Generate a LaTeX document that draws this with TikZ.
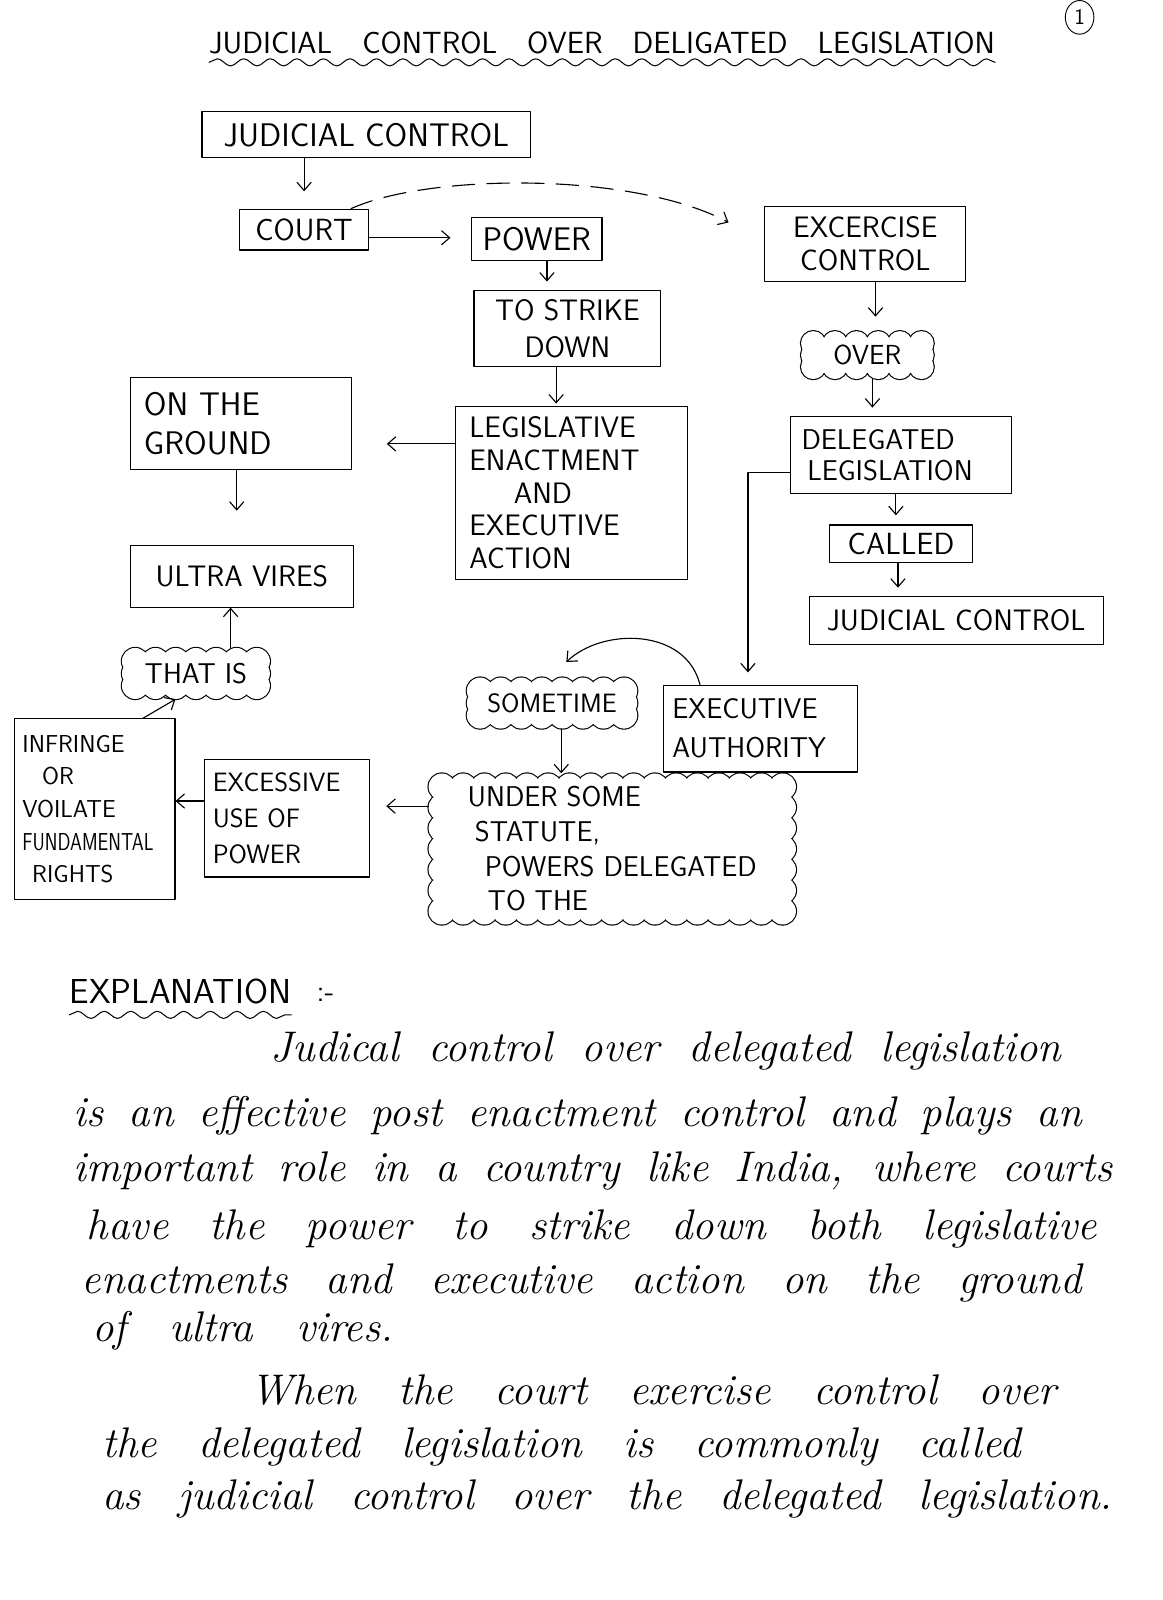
\documentclass[tikz,border=0pt]{standalone}
\usepackage{graphicx}
\usetikzlibrary{shapes.geometric,arrows.meta,decorations.pathmorphing,calc}
% cloud outline: cx cy w h r nx ny
\newcommand{\cloudbg}[7]{%
  \pgfmathsetmacro{\ca}{#3/2-#5}\pgfmathsetmacro{\cb}{#4/2-#5}%
  \draw[line width=2.2pt]
    foreach \i in {0,...,#6} {({#1-\ca+2*\ca*\i/#6},{#2-\cb}) circle[radius=#5] ({#1-\ca+2*\ca*\i/#6},{#2+\cb}) circle[radius=#5]}
    foreach \j in {1,...,#7} {({#1-\ca},{#2-\cb+2*\cb*\j/#7}) circle[radius=#5] ({#1+\ca},{#2-\cb+2*\cb*\j/#7}) circle[radius=#5]};
  \fill[white]
    foreach \i in {0,...,#6} {({#1-\ca+2*\ca*\i/#6},{#2-\cb}) circle[radius=#5] ({#1-\ca+2*\ca*\i/#6},{#2+\cb}) circle[radius=#5]}
    foreach \j in {1,...,#7} {({#1-\ca},{#2-\cb+2*\cb*\j/#7}) circle[radius=#5] ({#1+\ca},{#2-\cb+2*\cb*\j/#7}) circle[radius=#5]};
  \fill[white] ({#1-\ca},{#2-\cb}) rectangle ({#1+\ca},{#2+\cb});
}
\begin{document}
\begin{tikzpicture}[x=1pt,y=-1pt, line join=round, line cap=round,
 fs/.style 2 args={font=\sffamily\fontsize{#1}{#2}\selectfont},
 box/.style={draw, line width=1.1pt, inner sep=3pt, align=center, fs={29}{33}},
 cld/.style={rectangle, inner sep=0pt, align=left, fs={27}{32}},
 arr/.style={line width=1.1pt, -{Straight Barb[length=8pt,width=14pt,line width=1.1pt]}},
 wavy/.style={line width=1pt, decorate, decoration={snake, segment length=26pt, amplitude=3.5pt}},
 cur/.style={anchor=base west, inner sep=0pt, font=\itshape\fontsize{42}{50}\selectfont}]
\fill[white] (0,0) rectangle (1139,1568);
\useasboundingbox (0,0) rectangle (1139,1568);

% title
\node[inner sep=0pt, fs={30}{34}] (title) at (590,42) {\makebox[770pt][s]{JUDICIAL CONTROL OVER DELIGATED LEGISLATION}};
\draw[wavy] ([yshift=-8pt]title.south west) -- ([yshift=-8pt]title.south east);
\node[draw, ellipse, line width=0.9pt, minimum width=28pt, minimum height=33pt, inner sep=0pt, fs={22}{24}] (pg) at (1058,17) {1};

% cloud outlines
\cloudbg{192}{660}{145}{50}{13}{6}{2}
\cloudbg{541}{689}{167}{50}{13}{7}{2}
\cloudbg{850}{348}{130}{47}{12}{5}{2}
\cloudbg{600}{832}{360}{148}{13}{16}{6}

% boxes
\node[box, minimum width=322, minimum height=45, fs={32}{36}] (jc) at (359,132) {JUDICIAL CONTROL};
\node[box, minimum width=127, minimum height=40, fs={30}{34}] (court) at (298,225) {COURT};
\node[box, minimum width=128, minimum height=42, fs={32}{36}] (power) at (526,234) {POWER};
\node[box, minimum width=197, minimum height=74, fs={29}{32}] (exc) at (848,239) {EXCERCISE\\CONTROL};
\node[box, minimum width=183, minimum height=75, fs={29}{36}] (strike) at (556,322) {TO STRIKE\\DOWN};
\node[box, minimum width=227, minimum height=170, fs={29}{32}, align=left, text width=200] (leg) at (560,483)
  {LEGISLATIVE\\ENACTMENT\\\hspace*{1.5em}AND\\EXECUTIVE\\ACTION};
\node[box, minimum width=217, minimum height=90, fs={32}{38}, align=left, text width=190] (ground) at (236,415) {ON THE\\GROUND};
\node[box, minimum width=219, minimum height=60, fs={29}{33}] (ultra) at (237,565) {ULTRA VIRES};
\node[cld, minimum width=145, minimum height=50, fs={28}{32}] (thatis) at (192,660) {THAT IS};
\node[box, minimum width=157, minimum height=177, fs={24}{32}, align=left, text width=142] (infringe) at (93,793)
  {INFRINGE\\\hspace*{0.8em}OR\\VOILATE\\\scalebox{0.78}[1]{FUNDAMENTAL}\\\hspace*{0.4em}RIGHTS};
\node[box, minimum width=162, minimum height=115, fs={26}{35}, align=left, text width=145] (excessive) at (281,802)
  {EXCESSIVE\\USE OF\\POWER};
\node[cld, minimum width=360, minimum height=148, fs={28}{34}] (under) at (600,832)
  {UNDER SOME\\\hspace*{0.25em}STATUTE,\\\hspace*{0.6em}POWERS DELEGATED\\\hspace*{0.7em}TO THE};
\node[cld, minimum width=167, minimum height=50, fs={26}{30}] (sometime) at (541,689) {SOMETIME};
\node[box, fill=white, minimum width=190, minimum height=85, fs={28}{38}, align=left, text width=172] (execauth) at (745,714)
  {EXECUTIVE\\AUTHORITY};
\node[cld, minimum width=130, minimum height=47] (over) at (850,348) {OVER};
\node[box, minimum width=217, minimum height=76, fs={28}{30}, align=left, text width=195] (deleg) at (883,446)
  {DELEGATED\\\hspace*{0.2em}LEGISLATION};
\node[box, minimum width=140, minimum height=37, fs={30}{34}] (called) at (883,533) {CALLED};
\node[box, minimum width=288, minimum height=47, fs={29}{33}] (jc2) at (937,608) {JUDICIAL CONTROL};

% connectors
\draw[arr, shorten >=17pt] (jc.south -| court.north) -- (court.north);
\draw[arr, shorten >=20pt] ([yshift=-8pt]court.east) -- ([yshift=-8pt]court.east -| power.west);
\draw[arr, dash pattern=on 22pt off 12pt] ([xshift=-18pt]court.north east) .. controls (420,170) and (620,168) .. ($(exc.west)+(-35,-21)$);
\draw[arr, shorten >=8pt] ([xshift=10pt]power.south) -- ([xshift=10pt]power.south |- strike.north);
\draw[arr, shorten >=2pt] ([xshift=-11pt]strike.south) -- ([xshift=-11pt]strike.south |- leg.north);
\draw[arr, shorten >=34pt] ([yshift=48pt]leg.west) -- ([yshift=48pt]leg.west -| ground.east);
\draw[arr, shorten >=34pt] ([xshift=-4pt]ground.south) -- ([xshift=-4pt]ground.south |- ultra.north);
\draw[arr] ([xshift=34pt]thatis.north) -- ([xshift=34pt]thatis.north |- ultra.south);
\draw[arr] ([xshift=47pt]infringe.north) -- ([xshift=-20pt]thatis.south);
\draw[arr] ([yshift=17pt]excessive.west) -- ([yshift=17pt]excessive.west -| infringe.east);
\draw[arr, shorten >=16pt] ([yshift=42pt]under.west) -- ([yshift=42pt]under.west -| excessive.east);
\draw[arr] ([xshift=9pt]sometime.south) -- ([xshift=9pt]sometime.south |- under.north);
\draw[arr] ([xshift=-59pt]execauth.north) .. controls (672,615) and (590,615) .. ([xshift=14pt,yshift=15pt]sometime.north);
\draw[arr, shorten >=14pt] ([xshift=10pt]exc.south) -- ([xshift=10pt]exc.south |- over.north);
\draw[arr, shorten >=8pt] ([xshift=5pt]over.south) -- ([xshift=5pt]over.south |- deleg.north);
\draw[arr, shorten >=12pt] ([yshift=-17pt]deleg.west) -| ([xshift=-12pt]execauth.north);
\draw[arr, shorten >=9pt] ([xshift=-5pt]deleg.south) -- ([xshift=-5pt]deleg.south |- called.north);
\draw[arr, shorten >=8pt] ([xshift=-3pt]called.south) -- ([xshift=-3pt]called.south |- jc2.north);

% explanation
\node[anchor=west, inner sep=0pt, fs={34}{38}] (expl) at (68,972) {EXPLANATION};
\node[anchor=west, inner sep=0pt, fs={30}{34}] (colon) at (310,975) {:-};
\draw[wavy] ([yshift=-10pt]expl.south west) -- ([yshift=-10pt]expl.south east);

\node[cur] (p1) at (265,1040) {\makebox[775pt][s]{Judical control over delegated legislation}};
\node[cur] (p2) at (72,1104) {\makebox[988pt][s]{is an effective post enactment control and plays an}};
\node[cur] (p3) at (72,1158) {\makebox[1018pt][s]{important role in a country like India, where courts}};
\node[cur] (p4) at (85,1215) {\makebox[990pt][s]{have the power to strike down both legislative}};
\node[cur] (p5) at (80,1268) {\makebox[980pt][s]{enactments and executive action on the ground}};
\node[cur] (p6) at (90,1315) {\makebox[295pt][s]{of ultra vires.}};
\node[cur] (p7) at (245,1376) {\makebox[790pt][s]{When the court exercise control over}};
\node[cur] (p8) at (100,1428) {\makebox[900pt][s]{the delegated legislation is commonly called}};
\node[cur] (p9) at (100,1479) {\makebox[990pt][s]{as judicial control over the delegated legislation.}};
\end{tikzpicture}
\end{document}
